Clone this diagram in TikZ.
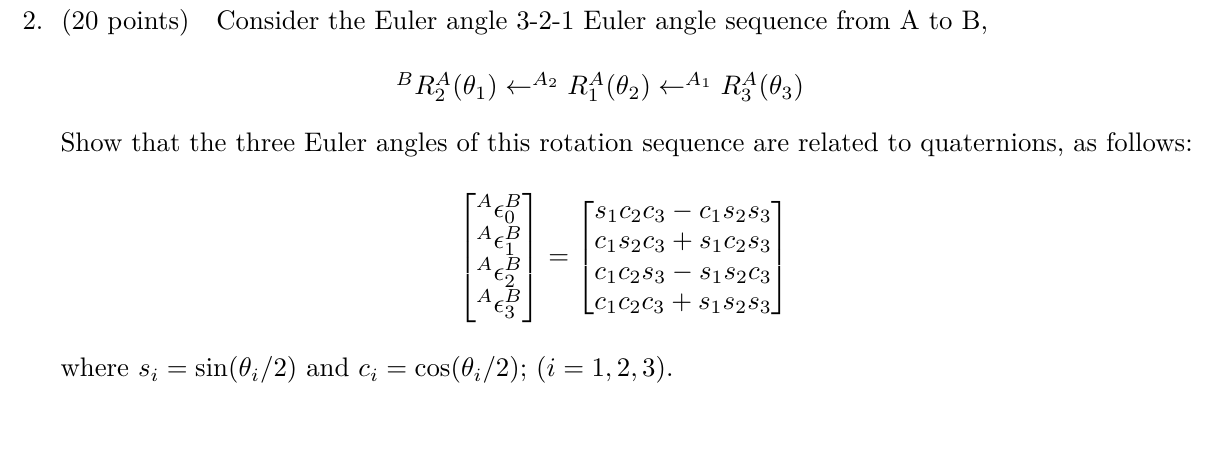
\documentclass[tikz,border=0pt]{standalone}
\usepackage{amsmath}
\begin{document}
\begin{tikzpicture}[x=0.373pt,y=-0.373pt,txt/.style={inner sep=0pt,anchor=base west}]
\useasboundingbox (0,0) rectangle (1221,450);
\node[txt] (l1) at (22,30) {2.\ \ (20 points) \ \ Consider the Euler angle 3-2-1 Euler angle sequence from A to B,};
\node[inner sep=0pt,anchor=base] (eq) at (600,95) {${}^B R_2^A(\theta_1) \leftarrow^{A_2} R_1^A(\theta_2) \leftarrow^{A_1} R_3^A(\theta_3)$};
\node[txt] (l3) at (60,152) {Show that the three Euler angles of this rotation sequence are related to quaternions, as follows:};
\node[inner sep=0pt] (mat) at (624,258) {$\renewcommand{\arraystretch}{0.95}\begin{bmatrix} {}^A\epsilon_0^B\\ {}^A\epsilon_1^B\\ {}^A\epsilon_2^B\\ {}^A\epsilon_3^B \end{bmatrix} = \begin{bmatrix} s_1c_2c_3-c_1s_2s_3\\ c_1s_2c_3+s_1c_2s_3\\ c_1c_2s_3-s_1s_2c_3\\ c_1c_2c_3+s_1s_2s_3\end{bmatrix}$};
\node[txt] (l5) at (60,377) {where $s_i=\sin(\theta_i/2)$ and $c_i=\cos(\theta_i/2)$; $(i=1,2,3)$.};
\end{tikzpicture}
\end{document}
